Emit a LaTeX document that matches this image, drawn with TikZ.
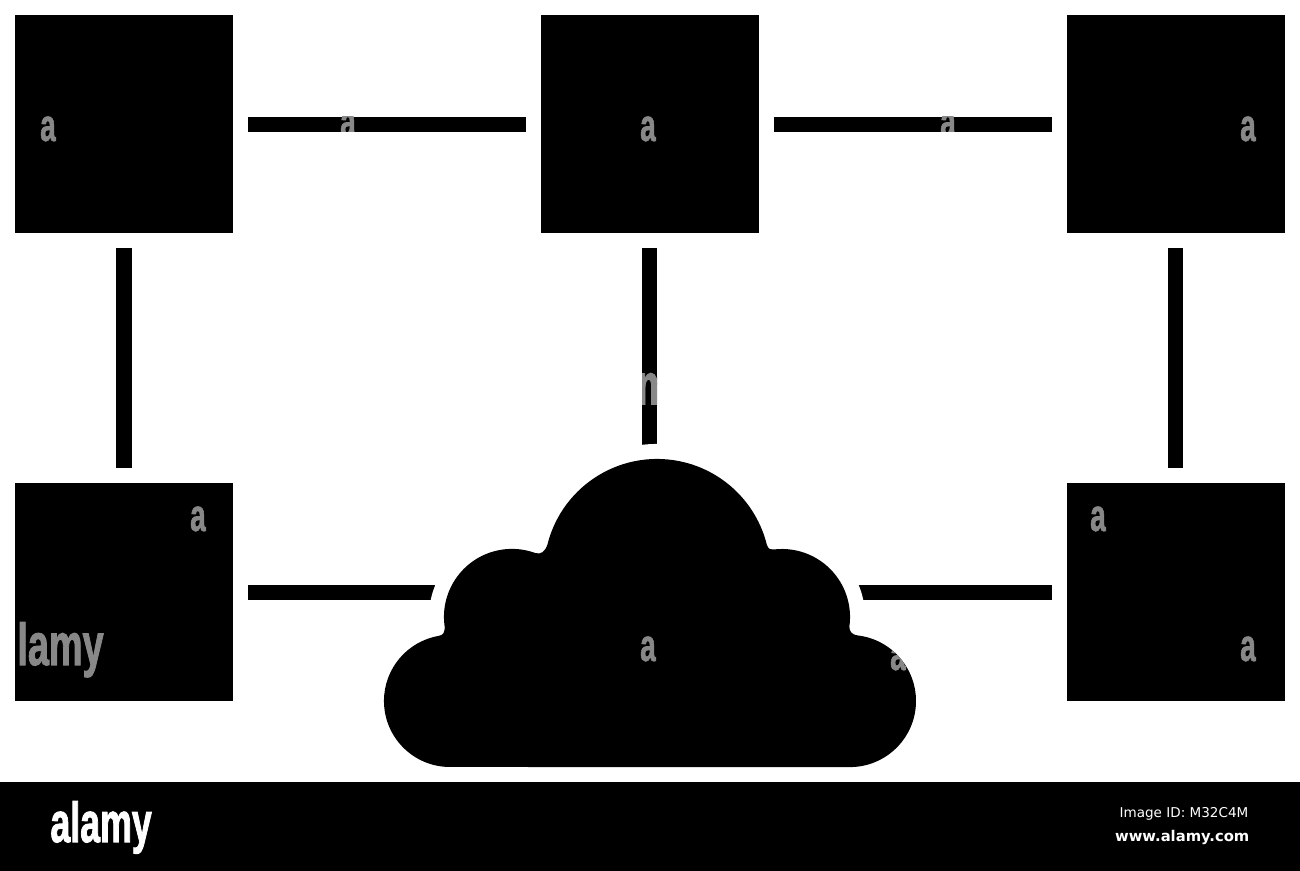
\documentclass[tikz,border=0pt]{standalone}
\usepackage{fontspec}
\setmainfont{Liberation Sans}
\newfontfamily\dvfont{DejaVu Sans}
\newfontfamily\heavyfont[FakeBold=2]{Liberation Sans Bold}
\definecolor{wm}{HTML}{888888}
\newcommand\cloudoutline{(450,104)
  arc[start angle=270,end angle=100,radius=.66cm]
  .. controls (444,236) and (444.3,239) .. (444.8,243.4)
  arc[start angle=189,end angle=70,radius=.68cm]
  .. controls (541,316) and (545,319.5) .. (547.4,326.3)
  arc[start angle=166,end angle=14,radius=1.13cm]
  .. controls (768.5,321) and (771,321.5) .. (773.7,321.5)
  arc[start angle=97,end angle=-8,radius=.68cm]
  .. controls (849.5,240) and (851,236.5) .. (858,235.5)
  arc[start angle=83,end angle=-90,radius=.66cm]
  -- cycle}
\tikzset{
  x=.01cm,y=.01cm,
  boxnode/.style={fill=black,draw=none,inner sep=0pt,outer sep=0pt,minimum width=2.18cm,minimum height=2.18cm},
  link/.style={line width=.15cm,black},
  gap/.style={shorten >=.15cm,shorten <=.15cm},
  wmsmall/.style={text=wm,inner sep=0pt,font=\heavyfont\fontsize{12.8pt}{14pt}\selectfont,xscale=.62},
  wmbig/.style={text=wm,inner sep=0pt,font=\heavyfont\fontsize{16.8pt}{17pt}\selectfont,xscale=.64},
}
\begin{document}
\begin{tikzpicture}
\useasboundingbox (0,0) rectangle (1300,871);
\fill[white] (0,0) rectangle (1300,871);
% boxes
\node[boxnode] (tl) at (124,746.6) {};
\node[boxnode] (tm) at (649.6,746.6) {};
\node[boxnode] (tr) at (1175.7,746.6) {};
\node[boxnode] (bl) at (124,278.6) {};
\node[boxnode] (br) at (1175.7,278.6) {};
\coordinate (hub) at (649.6,278.6);
% connectors
\draw[link,gap] (tl) -- (tm);
\draw[link,gap] (tm) -- (tr);
\draw[link,gap] (tl) -- (bl);
\draw[link,gap] (tr) -- (br);
\draw[link,shorten <=.15cm] (tm) -- (hub);
\draw[link,shorten <=.15cm] (bl) -- (hub);
\draw[link,shorten <=.15cm] (br) -- (hub);
% cloud with white halo
\draw[white,line width=.3cm,line join=round] \cloudoutline;
\fill[black] \cloudoutline;
% watermark on shapes
\foreach \n/\px/\py in {a1/48/129,a2/648/129,a3/1248/129,a4/198/519,a5/1098/519,a6/648/649,a7/1248/649}{
  \node[wmsmall] (\n) at (\px,871-\py) {a};
}
\node[wmbig,anchor=base west] (wmlamy) at (17,206) {lamy};
\begin{scope}
  \clip (248,739) rectangle (526,754);
  \node[wmsmall] (a8) at (348,746) {a};
\end{scope}
\begin{scope}
  \clip (774,739) rectangle (1052,754);
  \node[wmsmall] (a9) at (948,746) {a};
\end{scope}
\begin{scope}
  \clip (642,466) rectangle (657,501);
  \node[wmbig,anchor=base] (wmm) at (654,466) {m};
\end{scope}
\begin{scope}
  \clip \cloudoutline;
  \node[wmsmall] (a10) at (898,213) {a};
\end{scope}
% banner
\node[fill=black,inner sep=0pt,outer sep=0pt,minimum width=13cm,minimum height=.89cm,anchor=south west] (banner) at (0,0) {};
\node[text=white,inner sep=0pt,anchor=base west,font=\heavyfont\fontsize{16pt}{17pt}\selectfont,xscale=.635] (logo) at (50,29) {alamy};
\node[text=white,inner sep=0pt,anchor=base east,font=\dvfont\fontsize{3.85pt}{5pt}\selectfont] (imgid) at (1249,53) {Image ID: M32C4M};
\node[text=white,inner sep=0pt,anchor=base east,font=\dvfont\bfseries\fontsize{4.2pt}{5pt}\selectfont] (url) at (1250,29) {www.alamy.com};
\end{tikzpicture}
\end{document}
